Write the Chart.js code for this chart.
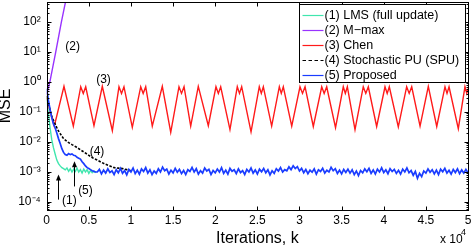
<!DOCTYPE html>
<html>
<head>
<meta charset="utf-8">
<script src="https://cdn.jsdelivr.net/npm/chart.js@4.4.0/dist/chart.umd.min.js"></script>
<style>
  html, body { margin: 0; padding: 0; background: #fff; }
  #wrap { width: 473px; height: 248px; }
</style>
</head>
<body>
<div id="wrap"><canvas id="mseChart" width="473" height="248"></canvas></div>
<script>
// iterations are in units of 10^4 (axis shows the "x 10^4" multiplier)

// (1) LMS (full update)
const iterLMS = [0, 0.02, 0.04, 0.06, 0.08, 0.10, 0.12, 0.14, 0.16, 0.18,
  0.20, 0.22, 0.24, 0.26, 0.28, 0.30, 0.32, 0.34, 0.36, 0.38,
  0.40, 0.42, 0.44, 0.46, 0.48, 0.50, 0.52, 0.54, 0.56, 0.58];
const mseLMS = [0.30, 0.09, 0.03, 0.012, 0.0065, 0.004, 0.0025, 0.0019, 0.0016, 0.0014,
  1.30e-3, 1.18e-3, 1.36e-3, 1.05e-3, 1.30e-3, 1.00e-3, 1.25e-3, 1.05e-3, 1.35e-3, 1.00e-3,
  1.20e-3, 0.92e-3, 1.25e-3, 1.00e-3, 1.20e-3, 0.90e-3, 1.12e-3, 0.95e-3, 1.08e-3, 0.95e-3];

// (2) M-max
const iterMmax = [0, 0.04, 0.107, 0.174, 0.25];
const mseMmax = [0.38, 1.1, 10, 100, 1100];

// (3) Chen
const iterChen = [0, 0.09, 0.205, 0.316, 0.404, 0.434, 0.463, 0.561, 0.660, 0.779,
  0.858, 0.888, 0.917, 1.016, 1.116, 1.145, 1.175, 1.253, 1.372, 1.472,
  1.570, 1.600, 1.630, 1.709, 1.799, 1.918, 2.009, 2.037, 2.065, 2.175,
  2.262, 2.288, 2.314, 2.425, 2.523, 2.547, 2.571, 2.670, 2.761, 2.784,
  2.808, 2.908, 3.006, 3.036, 3.066, 3.164, 3.264, 3.293, 3.323, 3.428,
  3.520, 3.544, 3.568, 3.659, 3.757, 3.787, 3.817, 3.916, 4.015, 4.041,
  4.066, 4.173, 4.272, 4.302, 4.332, 4.431, 4.529, 4.629, 4.727, 4.751,
  4.775, 4.885, 4.964, 4.985, 5.0];
const mseChen = [0.30, 0.034, 0.72, 0.034, 0.70, 0.42, 0.70, 0.035, 0.72, 0.024,
  0.70, 0.42, 0.70, 0.031, 0.70, 0.42, 0.70, 0.034, 0.72, 0.021,
  0.70, 0.42, 0.70, 0.034, 0.72, 0.035, 0.70, 0.42, 0.70, 0.026,
  0.70, 0.42, 0.70, 0.022, 0.70, 0.42, 0.70, 0.034, 0.70, 0.42,
  0.70, 0.034, 0.70, 0.42, 0.70, 0.033, 0.70, 0.42, 0.70, 0.030,
  0.70, 0.42, 0.70, 0.026, 0.70, 0.42, 0.70, 0.033, 0.70, 0.42,
  0.70, 0.032, 0.70, 0.42, 0.70, 0.034, 0.72, 0.033, 0.70, 0.42,
  0.70, 0.028, 0.70, 0.42, 0.60];

// (4) Stochastic PU (SPU)
const iterSPU = [0, 0.03, 0.06, 0.10, 0.13, 0.16, 0.20, 0.25, 0.30, 0.35,
  0.40, 0.45, 0.50, 0.55, 0.60, 0.65, 0.70, 0.75, 0.80, 0.85, 0.90, 0.95, 1.0];
const mseSPU = [0.35, 0.15, 0.07, 0.04, 0.026, 0.019, 0.013, 0.010, 0.0082, 0.0068,
  0.0055, 0.0045, 0.0036, 0.0029, 0.0025, 0.0021, 0.0018, 0.0016, 0.0014, 0.00135, 0.0013, 0.0012, 0.0011];

// (5) Proposed: transient part
const iterPropHead = [0, 0.02, 0.04, 0.06, 0.08, 0.10, 0.12, 0.14, 0.16, 0.18,
  0.20, 0.22, 0.24, 0.26, 0.28, 0.30, 0.32, 0.34, 0.36, 0.38,
  0.40, 0.42, 0.44, 0.46, 0.48, 0.50, 0.52, 0.54, 0.56, 0.58];
const msePropHead = [0.6, 0.25, 0.12, 0.065, 0.04, 0.03, 0.02, 0.013, 0.009, 0.006,
  0.0045, 0.0038, 0.0036, 0.0041, 0.0038, 0.0040, 0.0036, 0.0035, 0.0031, 0.0029,
  0.0027, 0.0022, 0.0019, 0.0016, 0.0014, 0.0013, 0.0012, 0.0011, 0.00105, 0.0010];
// (5) Proposed: steady state, sampled every 0.025 from 0.6 to 5
const propTailStart = 0.6;
const propTailStep = 0.025;
const msePropTail = [
  1.00e-3, 1.22e-3, 0.86e-3, 1.15e-3, 0.92e-3, 1.27e-3, 0.96e-3, 1.10e-3, 0.82e-3, 1.19e-3,
  0.94e-3, 1.32e-3, 0.90e-3, 1.12e-3, 0.80e-3, 1.22e-3, 1.00e-3, 1.36e-3, 0.88e-3, 1.15e-3,
  0.85e-3, 1.27e-3, 1.04e-3, 1.40e-3, 0.92e-3, 1.19e-3, 0.82e-3, 1.08e-3, 0.90e-3, 1.29e-3,
  1.00e-3, 1.45e-3, 1.10e-3, 1.25e-3, 0.86e-3, 1.15e-3, 0.94e-3, 1.32e-3, 0.98e-3, 1.22e-3,
  0.88e-3, 1.12e-3, 0.82e-3, 1.19e-3, 1.04e-3, 1.43e-3, 1.00e-3, 1.29e-3, 0.85e-3, 1.10e-3,
  0.92e-3, 1.36e-3, 1.08e-3, 1.22e-3, 0.82e-3, 1.12e-3, 0.94e-3, 1.25e-3, 1.00e-3, 1.40e-3,
  0.90e-3, 1.15e-3, 0.85e-3, 1.32e-3, 1.06e-3, 1.19e-3, 0.88e-3, 1.27e-3, 0.96e-3, 1.12e-3,
  0.83e-3, 1.22e-3, 1.00e-3, 1.36e-3, 0.92e-3, 1.17e-3, 0.86e-3, 1.25e-3, 1.02e-3, 1.31e-3,
  0.94e-3, 1.19e-3, 0.80e-3, 1.10e-3, 0.90e-3, 1.29e-3, 1.08e-3, 1.40e-3, 1.00e-3, 1.20e-3,
  1.10e-3, 1.48e-3, 1.20e-3, 1.62e-3, 1.30e-3, 1.50e-3, 1.08e-3, 1.32e-3, 0.95e-3, 1.22e-3,
  0.88e-3, 1.15e-3, 0.98e-3, 1.27e-3, 0.85e-3, 1.19e-3, 1.04e-3, 1.34e-3, 0.92e-3, 1.14e-3,
  1.00e-3, 1.43e-3, 1.10e-3, 1.29e-3, 0.90e-3, 1.15e-3, 0.86e-3, 1.22e-3, 0.96e-3, 1.25e-3,
  0.92e-3, 1.19e-3, 0.82e-3, 1.08e-3, 0.76e-3, 1.12e-3, 0.94e-3, 1.27e-3, 1.02e-3, 1.32e-3,
  0.90e-3, 1.17e-3, 0.86e-3, 1.24e-3, 1.00e-3, 1.38e-3, 0.96e-3, 1.19e-3, 0.88e-3, 1.29e-3,
  1.04e-3, 1.22e-3, 0.90e-3, 1.14e-3, 0.85e-3, 1.25e-3, 1.00e-3, 1.36e-3, 0.94e-3, 1.12e-3,
  0.78e-3, 1.04e-3, 0.62e-3, 0.90e-3, 0.70e-3, 1.08e-3, 0.92e-3, 1.27e-3, 0.98e-3, 1.19e-3,
  0.86e-3, 1.15e-3, 0.82e-3, 1.24e-3, 1.02e-3, 1.32e-3, 0.92e-3, 1.14e-3, 0.85e-3, 1.22e-3,
  0.96e-3, 1.27e-3, 0.88e-3, 1.17e-3, 0.92e-3, 1.22e-3, 0.94e-3];

const seriesNames = ['(1) LMS (full update)', '(2) M\u2212max', '(3) Chen', '(4) Stochastic PU (SPU)', '(5) Proposed'];
const seriesColors = ['#40E6AE', '#9933FF', '#FF1A1A', '#000000', '#1A3CFF'];

// curve labels and arrows, in data units
const noteText = ['(1)', '(2)', '(3)', '(4)', '(5)'];
const noteIter = [0.27, 0.307, 0.674, 0.597, 0.46];
const noteMse = [1.07e-4, 15, 1.17, 0.0048, 2.4e-4];
const arrowIter = [0.138, 0.328];
const arrowFromMse = [1.2e-4, 3.3e-4];
const arrowToMse = [8.3e-4, 2.3e-3];

const FONT = '"Liberation Sans", Arial, Helvetica, sans-serif';
const SUP = { '-': '\u207B', '0': '\u2070', '1': '\u00B9', '2': '\u00B2', '3': '\u00B3', '4': '\u2074' };

function pts(xs, ys) {
  return xs.map((v, i) => ({ x: v, y: ys[i] }));
}

const propPoints = pts(iterPropHead, msePropHead).concat(
  msePropTail.map((v, i) => ({ x: propTailStart + i * propTailStep, y: v })));

function lineSet(idx, data, order, extra) {
  return Object.assign({
    label: seriesNames[idx],
    data: data,
    borderColor: seriesColors[idx],
    borderWidth: 1.4,
    pointRadius: 0,
    tension: 0,
    order: order
  }, extra || {});
}

const decorPlugin = {
  id: 'decor',
  afterDraw(chart) {
    const { ctx, chartArea: a } = chart;
    const x = chart.scales.x, y = chart.scales.y;
    ctx.save();
    ctx.strokeStyle = '#000';
    ctx.lineWidth = 1;
    const L = Math.round(a.left) + 0.5, R = Math.round(a.right) + 0.5;
    const T = Math.round(a.top) + 0.5, B = Math.round(a.bottom) + 0.5;
    ctx.strokeRect(L, T, R - L, B - T);

    // inward ticks, all four sides
    ctx.beginPath();
    x.ticks.forEach(t => {
      const px = Math.round(x.getPixelForValue(t.value)) + 0.5;
      ctx.moveTo(px, B); ctx.lineTo(px, B - 4);
      ctx.moveTo(px, T); ctx.lineTo(px, T + 4);
    });
    for (let e = -5; e <= 3; e++) {
      for (let m = 1; m <= 9; m++) {
        const v = m * Math.pow(10, e);
        if (v < y.min || v > y.max) continue;
        const py = Math.round(y.getPixelForValue(v)) + 0.5;
        const len = m === 1 ? 4 : 2;
        ctx.moveTo(L, py); ctx.lineTo(L + len, py);
        ctx.moveTo(R, py); ctx.lineTo(R - len, py);
      }
    }
    ctx.stroke();

    // curve labels
    ctx.fillStyle = '#000';
    ctx.font = '12px ' + FONT;
    ctx.textAlign = 'center';
    ctx.textBaseline = 'middle';
    noteText.forEach((s, i) => {
      ctx.fillText(s, x.getPixelForValue(noteIter[i]), y.getPixelForValue(noteMse[i]));
    });

    // arrows
    arrowIter.forEach((v, i) => {
      const px = Math.round(x.getPixelForValue(v)) + 0.5;
      const y0 = y.getPixelForValue(arrowFromMse[i]);
      const y1 = y.getPixelForValue(arrowToMse[i]);
      ctx.beginPath();
      ctx.moveTo(px, y0); ctx.lineTo(px, y1 + 4);
      ctx.stroke();
      ctx.beginPath();
      ctx.moveTo(px, y1); ctx.lineTo(px - 2.5, y1 + 6); ctx.lineTo(px + 2.5, y1 + 6);
      ctx.closePath();
      ctx.fill();
    });

    // legend box
    const lw = 166, lh = 78;
    const lx = Math.round(a.right) - 3 - lw + 0.5, ly = Math.round(a.top) + 2 + 0.5;
    ctx.fillStyle = '#fff';
    ctx.fillRect(lx, ly, lw, lh);
    ctx.strokeRect(lx, ly, lw, lh);
    ctx.font = '12.5px ' + FONT;
    ctx.textAlign = 'left';
    seriesNames.forEach((name, i) => {
      const ry = Math.round(ly + 10 + i * 15) + 0.5;
      ctx.strokeStyle = seriesColors[i];
      ctx.lineWidth = 1.2;
      ctx.setLineDash(i === 3 ? [3.5, 2.5] : []);
      ctx.beginPath();
      ctx.moveTo(lx + 3, ry); ctx.lineTo(lx + 24, ry);
      ctx.stroke();
      ctx.setLineDash([]);
      ctx.fillStyle = '#000';
      ctx.fillText(name, lx + 25, ry);
    });

    // axis multiplier
    ctx.fillStyle = '#000';
    ctx.textAlign = 'left';
    ctx.textBaseline = 'alphabetic';
    ctx.font = '12px ' + FONT;
    ctx.fillText('x 10', 440, 243);
    ctx.font = '9px ' + FONT;
    ctx.fillText('4', 461, 235);
    ctx.restore();
  }
};

new Chart(document.getElementById('mseChart'), {
  type: 'line',
  data: {
    datasets: [
      lineSet(0, pts(iterLMS, mseLMS), 5),
      lineSet(1, pts(iterMmax, mseMmax), 4),
      lineSet(2, pts(iterChen, mseChen), 3),
      lineSet(3, pts(iterSPU, mseSPU), 2, { borderDash: [2.5, 1.5], borderWidth: 1.6 }),
      lineSet(4, propPoints, 1, { borderWidth: 1.7 })
    ]
  },
  options: {
    responsive: false,
    animation: false,
    events: [],
    layout: { padding: { top: 2, right: 5, left: 0, bottom: 0 } },
    plugins: { legend: { display: false }, tooltip: { enabled: false } },
    scales: {
      x: {
        type: 'linear',
        min: 0,
        max: 5,
        ticks: {
          stepSize: 0.5, color: '#000', padding: 3, font: { family: FONT, size: 12 },
          callback: v => String(Math.round(v * 10) / 10)
        },
        grid: { display: false, drawTicks: false },
        border: { display: false },
        title: { display: true, text: 'Iterations, k', color: '#000', padding: 0, font: { family: FONT, size: 16 } },
        afterFit: s => { s.height = 38; s.paddingLeft = 0; s.paddingRight = 0; }
      },
      y: {
        type: 'logarithmic',
        min: 5.4e-5,
        max: 470,
        ticks: {
          autoSkip: false,
          color: '#000',
          padding: 6,
          font: { family: FONT, size: 12 },
          callback: v => {
            const e = Math.log10(v);
            if (Math.abs(e - Math.round(e)) > 1e-9) return '';
            return '10' + String(Math.round(e)).split('').map(c => SUP[c]).join('');
          }
        },
        grid: { display: false, drawTicks: false },
        border: { display: false },
        title: { display: true, text: 'MSE', color: '#000', padding: { top: -2 }, font: { family: FONT, size: 16, lineHeight: 1 } },
        afterFit: s => { s.width = 46.7; s.paddingTop = 0; s.paddingBottom = 0; }
      }
    }
  },
  plugins: [decorPlugin]
});
</script>
</body>
</html>
